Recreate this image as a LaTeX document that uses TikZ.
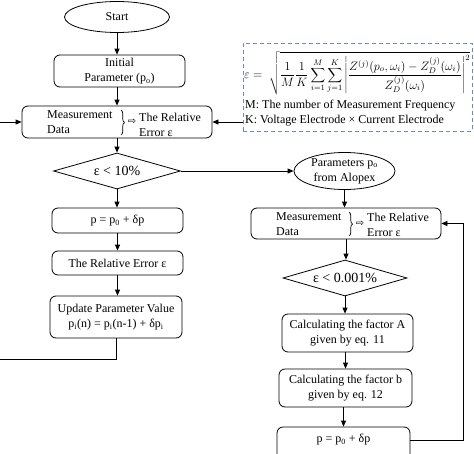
\documentclass[tikz,border=0pt]{standalone}
\usepackage{graphicx}
\usepackage{fontspec}
\setmainfont{Liberation Serif}
\newfontfamily\djv{DejaVu Sans}
\usetikzlibrary{shapes.geometric,arrows.meta,decorations.pathreplacing}
\definecolor{dashc}{RGB}{110,140,180}
\begin{document}
\begin{tikzpicture}[x=1pt,y=-1pt,
  every node/.style={font=\fontsize{12}{15}\selectfont},
  box/.style={draw,rounded corners=6pt,line width=0.8pt,inner sep=0pt,align=center},
  dia/.style={draw,diamond,aspect=1,inner sep=0pt,line width=0.8pt},
  diatext/.style={font=\fontsize{14}{16}\selectfont},
  ell/.style={draw,ellipse,inner sep=0pt,line width=0.8pt,align=center},
  arr/.style={-{Triangle[length=6pt,width=5pt]},line width=0.8pt},
  ln/.style={line width=0.8pt},
  brc/.style={decorate,decoration={brace,amplitude=3.5pt},line width=0.7pt},
  harr/.style={font=\djv\fontsize{10}{10}\selectfont,inner sep=0pt},
  lt/.style={anchor=west,align=left,inner sep=0pt},
]
\useasboundingbox (0,0) rectangle (474,453);
\clip (0,0) rectangle (474,453);

% left column
\node[ell,minimum width=105pt,minimum height=31pt] (start) at (117,17) {Start};
\node[box,minimum width=131pt,minimum height=32pt] (init) at (119.5,71) {Initial\\Parameter (p\textsubscript{o})};

\node[box,minimum width=190pt,minimum height=32pt] (meas1) at (117,122) {};
\node[lt] (md1) at (47,122) {Measurement\\Data};
\coordinate (b1t) at (121,110);
\coordinate (b1b) at (121,135);
\draw[brc] (b1t) -- (b1b);
\node[harr] (ha1) at (132,122) {⇨};
\node[lt] (re1) at (139,124.5) {The Relative\\Error ε};

\node[dia,minimum width=127pt,minimum height=36pt] (d1) at (117,171) {};
\node[diatext] (d1t) at (d1) {ε < 10\%};

\node[box,minimum width=131pt,minimum height=25pt] (p1) at (117.5,220.5) {p = p\textsubscript{0} + δp};
\node[box,minimum width=131pt,minimum height=24pt] (re) at (117.5,263) {The Relative Error ε};
\node[box,minimum width=132pt,minimum height=42pt] (upd) at (116,317) {Update Parameter Value\\p\textsubscript{i}(n) = p\textsubscript{i}(n-1) + δp\textsubscript{i}};

% equation box
\node[draw=dashc,dashed,dash pattern=on 4pt off 3pt,line width=0.8pt,minimum width=229pt,minimum height=88pt,inner sep=0pt] (eqbox) at (357.5,87) {};
\node[anchor=west,inner sep=0pt] (eq) at (244,73) {\resizebox{226pt}{!}{$\displaystyle \varepsilon = \;\sqrt{\frac{1}{M}\frac{1}{K}\sum_{i=1}^{M}\sum_{j=1}^{K}\left|\frac{Z^{(j)}(p_o,\omega_i)-Z_D^{(j)}(\omega_i)}{Z_D^{(j)}(\omega_i)}\right|^2}$}};
\node[lt] (mtxt) at (245,106) {M: The number of Measurement Frequency};
\node[lt] (ktxt) at (245,121) {K: Voltage Electrode × Current Electrode};

% right column
\node[ell,minimum width=101pt,minimum height=37pt] (alo) at (344.5,171) {Parameters p\textsubscript{o}\\from Alopex};

\node[box,minimum width=190pt,minimum height=31pt] (meas2) at (346,223.5) {};
\node[lt] (md2) at (276,224) {Measurement\\Data};
\coordinate (b2t) at (349,212);
\coordinate (b2b) at (349,236);
\draw[brc] (b2t) -- (b2b);
\node[harr] (ha2) at (360,223.5) {⇨};
\node[lt] (re2) at (367,225) {The Relative\\Error ε};

\node[dia,minimum width=124pt,minimum height=36pt] (d2) at (345,278) {};
\node[diatext] (d2t) at (d2) {ε < 0.001\%};

\node[box,minimum width=131pt,minimum height=38pt] (ca) at (347.5,333) {Calculating the factor A\\given by eq. 11};
\node[box,minimum width=133pt,minimum height=38pt] (cb) at (345.5,388) {Calculating the factor b\\given by eq. 12};
\node[box,minimum width=133pt,minimum height=34pt] (p2) at (343.5,444) {};
\node (p2t) at (343.5,440) {p = p\textsubscript{0} + δp};

% connectors
\draw[arr] (start.south) -- (start.south |- init.north);
\draw[arr] (init.south -| start.south) -- (start.south |- meas1.north);
\coordinate (lin) at (0,122);
\draw[arr] (lin) -- (meas1.west);
\draw[arr] (eqbox.west |- meas1.east) -- (meas1.east);
\draw[arr] (meas1.south) -- (d1.north);
\draw[arr] (d1.south) -- (d1.south |- p1.north);
\draw[arr] (p1.south) -- (p1.south |- re.north);
\draw[arr] (re.south) -- (re.south |- upd.north);
\coordinate (uout) at (0,359);
\draw[ln] (upd.south) |- (uout);

\draw[arr] (d1.east) -- (alo.west);
\draw[arr] (alo.south) -- (alo.south |- meas2.north);
\draw[arr] (meas2.south) -- (meas2.south |- d2.north);
\draw[arr] (d2.south) -- (d2.south |- ca.north);
\draw[arr] (ca.south -| cb.north) -- (cb.north);
\draw[arr] (cb.south -| p2.north) -- (p2.north);
\coordinate (fb) at (463,440);
\draw[arr] (p2.east |- fb) -- (fb) |- (meas2.east);
\end{tikzpicture}
\end{document}
